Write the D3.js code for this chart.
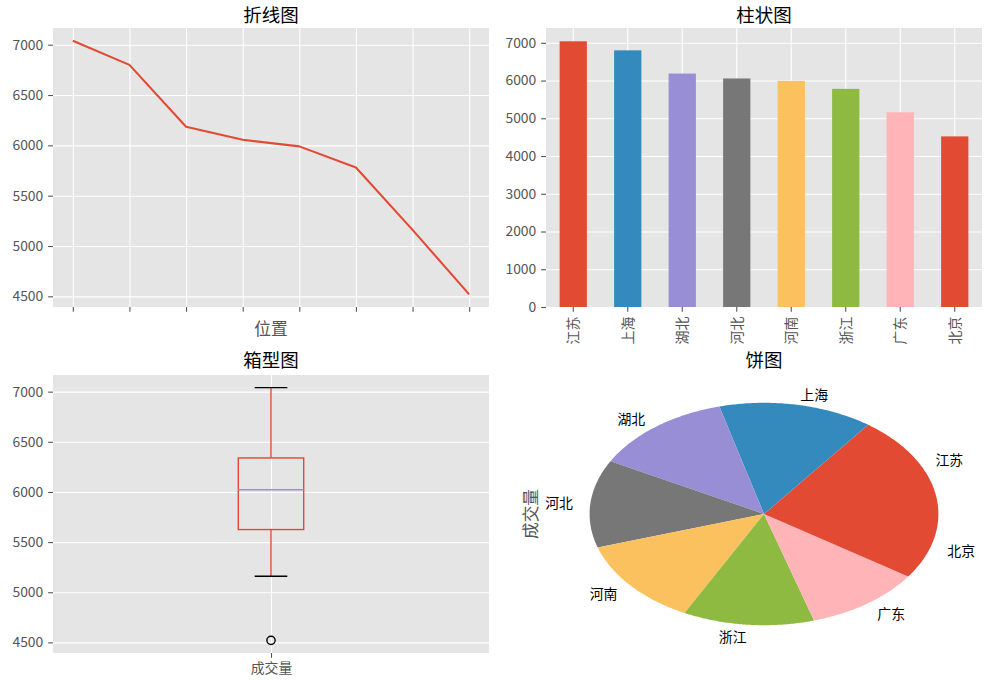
<!DOCTYPE html>
<html><head><meta charset="utf-8">
<script src="https://cdn.jsdelivr.net/npm/d3@7"></script>
<style>
body{margin:0;background:#fff}
text{font-family:"Noto Sans CJK SC","Noto Sans",sans-serif}
</style>
</head><body>
<svg id="c" width="1000" height="680"></svg>
<script>
// ---- data ----
const provinces = ["江苏","上海","湖北","河北","河南","浙江","广东","北京"];
const volumes = [7040, 6800, 6185, 6055, 5990, 5780, 5160, 4520];
const palette = ["#E24A33","#348ABD","#988ED5","#777777","#FBC15E","#8EBA42","#FFB5B8"];
const valueTicks = [4500, 5000, 5500, 6000, 6500, 7000];
const barTicks = [0, 1000, 2000, 3000, 4000, 5000, 6000, 7000];
const titles = ["折线图", "柱状图", "箱型图", "饼图"];
const seriesName = "成交量";
const lineXLabel = "位置";

// ---- layout ----
const svg = d3.select("#c");
const P = {
  line: {x0:53, x1:489, y0:28, y1:307},
  bar:  {x0:546, x1:982, y0:28, y1:307},
  box:  {x0:53, x1:489, y0:375, y1:653},
  pie:  {x0:546, x1:982, y0:375, y1:653}
};
const TICK = 4.86, PAD = 4.86;
const tickFont = "13.9px", labelFont = "16.7px", titleFont = "18.5px";
const grey = "#555555", bg = "#E5E5E5";
const fmt = d3.format("d");

function panelBg(b){
  svg.append("rect").attr("x",b.x0).attr("y",b.y0)
    .attr("width",b.x1-b.x0).attr("height",b.y1-b.y0).attr("fill",bg);
}
function title(b, t){
  svg.append("text").attr("x",(b.x0+b.x1)/2).attr("y",Math.max(b.y0-8, 21.5))
    .attr("text-anchor","middle").attr("font-size",titleFont).attr("fill","#000").text(t);
}
function styleAxis(g){
  g.select(".domain").remove();
  g.selectAll(".tick line").attr("stroke",grey).attr("stroke-width",1.1);
  g.selectAll(".tick text").attr("fill",grey).attr("font-size",tickFont)
    .attr("font-family",'"Noto Sans CJK SC",sans-serif');
}
function hGrid(b, y, ticks){
  const g = svg.append("g").attr("transform",`translate(${b.x0},0)`)
    .call(d3.axisLeft(y).tickValues(ticks).tickSize(-(b.x1-b.x0)).tickFormat(""));
  g.select(".domain").remove();
  g.selectAll(".tick line").attr("stroke","#fff").attr("stroke-width",1.1);
}
function vGrid(b, x, ticks){
  const g = svg.append("g").attr("transform",`translate(0,${b.y1})`)
    .call(d3.axisBottom(x).tickValues(ticks).tickSize(-(b.y1-b.y0)).tickFormat(""));
  g.select(".domain").remove();
  g.selectAll(".tick line").attr("stroke","#fff").attr("stroke-width",1.1);
}
function yAxis(b, y, ticks){
  const g = svg.append("g").attr("transform",`translate(${b.x0},0)`)
    .call(d3.axisLeft(y).tickValues(ticks).tickSize(TICK).tickPadding(PAD).tickFormat(fmt));
  styleAxis(g);
  return g;
}

const ext = d3.extent(volumes);
const m = (ext[1]-ext[0])*0.05;
const valDomain = [ext[0]-m, ext[1]+m];

// ---- 1. line chart ----
{
  const b = P.line;
  panelBg(b);
  const x = d3.scaleLinear().domain([-0.35, volumes.length-1+0.35]).range([b.x0,b.x1]);
  const y = d3.scaleLinear().domain(valDomain).range([b.y1,b.y0]);
  const idx = d3.range(volumes.length);
  hGrid(b, y, valueTicks);
  vGrid(b, x, idx);
  yAxis(b, y, valueTicks);
  const gx = svg.append("g").attr("transform",`translate(0,${b.y1})`)
    .call(d3.axisBottom(x).tickValues(idx).tickSize(TICK).tickFormat(""));
  styleAxis(gx);
  svg.append("path").datum(volumes)
    .attr("d", d3.line().x((d,i)=>x(i)).y(d=>y(d)))
    .attr("fill","none").attr("stroke",palette[0]).attr("stroke-width",2.08)
    .attr("stroke-linejoin","round");
  svg.append("text").attr("x",(b.x0+b.x1)/2).attr("y",335)
    .attr("text-anchor","middle").attr("font-size",labelFont).attr("fill",grey).text(lineXLabel);
  title(b, titles[0]);
}

// ---- 2. bar chart ----
{
  const b = P.bar;
  panelBg(b);
  const x = d3.scaleBand().domain(provinces).range([b.x0,b.x1]).paddingInner(0.5).paddingOuter(0.25);
  const y = d3.scaleLinear().domain([0, ext[1]*1.05]).range([b.y1,b.y0]);
  hGrid(b, y, barTicks);
  const gvx = svg.append("g").attr("transform",`translate(0,${b.y1})`)
    .call(d3.axisBottom(x).tickSize(-(b.y1-b.y0)).tickFormat(""));
  gvx.select(".domain").remove();
  gvx.selectAll(".tick line").attr("stroke","#fff").attr("stroke-width",1.1);
  svg.append("g").selectAll("rect").data(provinces).join("rect")
    .attr("x",d=>x(d)).attr("width",x.bandwidth())
    .attr("y",(d,i)=>y(volumes[i])).attr("height",(d,i)=>y(0)-y(volumes[i]))
    .attr("fill",(d,i)=>palette[i%palette.length]);
  yAxis(b, y, barTicks);
  const gx = svg.append("g").attr("transform",`translate(0,${b.y1})`)
    .call(d3.axisBottom(x).tickSize(TICK).tickPadding(PAD));
  styleAxis(gx);
  gx.selectAll(".tick text")
    .attr("transform","rotate(-90)").attr("x",-(TICK+PAD)).attr("y",0)
    .attr("dy","0.35em").attr("text-anchor","end");
  title(b, titles[1]);
}

// ---- 3. box plot ----
{
  const b = P.box;
  panelBg(b);
  const x = d3.scaleLinear().domain([0.5,1.5]).range([b.x0,b.x1]);
  const y = d3.scaleLinear().domain(valDomain).range([b.y1,b.y0]);
  hGrid(b, y, valueTicks);
  vGrid(b, x, [1]);
  yAxis(b, y, valueTicks);
  const gx = svg.append("g").attr("transform",`translate(0,${b.y1})`)
    .call(d3.axisBottom(x).tickValues([1]).tickSize(TICK).tickPadding(PAD).tickFormat(()=>seriesName));
  styleAxis(gx);
  const s = volumes.slice().sort(d3.ascending);
  const q1 = d3.quantile(s,0.25), med = d3.quantile(s,0.5), q3 = d3.quantile(s,0.75);
  const iqr = q3-q1;
  const lo = d3.min(s.filter(v=>v>=q1-1.5*iqr));
  const hi = d3.max(s.filter(v=>v<=q3+1.5*iqr));
  const out = s.filter(v=>v<lo||v>hi);
  const w = 0.075, cw = 0.0375;
  const g = svg.append("g");
  g.append("line").attr("x1",x(1)).attr("x2",x(1)).attr("y1",y(q3)).attr("y2",y(hi))
    .attr("stroke",palette[0]).attr("stroke-width",1.4);
  g.append("line").attr("x1",x(1)).attr("x2",x(1)).attr("y1",y(q1)).attr("y2",y(lo))
    .attr("stroke",palette[0]).attr("stroke-width",1.4);
  g.append("rect").attr("x",x(1-w)).attr("width",x(1+w)-x(1-w))
    .attr("y",y(q3)).attr("height",y(q1)-y(q3))
    .attr("fill","none").attr("stroke",palette[0]).attr("stroke-width",1.4);
  g.append("line").attr("x1",x(1-w)).attr("x2",x(1+w)).attr("y1",y(med)).attr("y2",y(med))
    .attr("stroke",palette[2]).attr("stroke-width",1.4);
  [lo,hi].forEach(v=>g.append("line").attr("x1",x(1-cw)).attr("x2",x(1+cw))
    .attr("y1",y(v)).attr("y2",y(v)).attr("stroke","#000").attr("stroke-width",1.4));
  g.selectAll("circle").data(out).join("circle")
    .attr("cx",x(1)).attr("cy",d=>y(d)).attr("r",4.15)
    .attr("fill","none").attr("stroke","#000").attr("stroke-width",1.4);
  title(b, titles[2]);
}

// ---- 4. pie ----
{
  const b = P.pie;
  const x = d3.scaleLinear().domain([-1.25,1.25]).range([b.x0,b.x1]);
  const y = d3.scaleLinear().domain([-1.25,1.25]).range([b.y1,b.y0]);
  const arcs = d3.pie().sort(null).startAngle(Math.PI/2).endAngle(Math.PI/2-2*Math.PI)(volumes);
  const g = svg.append("g");
  arcs.forEach((a,i)=>{
    const n = 80;
    const pts = [[0,0]];
    for(let k=0;k<=n;k++){
      const t = a.startAngle + (a.endAngle-a.startAngle)*k/n;
      pts.push([Math.sin(t), Math.cos(t)]);
    }
    g.append("path")
      .attr("d", d3.line().x(p=>x(p[0])).y(p=>y(p[1]))(pts)+"Z")
      .attr("fill", palette[i%palette.length]);
    const am = (a.startAngle+a.endAngle)/2;
    const lx = 1.1*Math.sin(am), ly = 1.1*Math.cos(am);
    g.append("text").attr("x",x(lx)).attr("y",y(ly))
      .attr("text-anchor", lx>0?"start":"end").attr("dominant-baseline","central")
      .attr("font-size",tickFont).attr("fill","#000").text(provinces[i]);
  });
  svg.append("text").attr("transform",`translate(${b.x0-16},${(b.y0+b.y1)/2}) rotate(-90)`)
    .attr("text-anchor","middle").attr("dominant-baseline","central")
    .attr("font-size",labelFont).attr("fill",grey).text(seriesName);
  title(b, titles[3]);
}
</script>
</body></html>
